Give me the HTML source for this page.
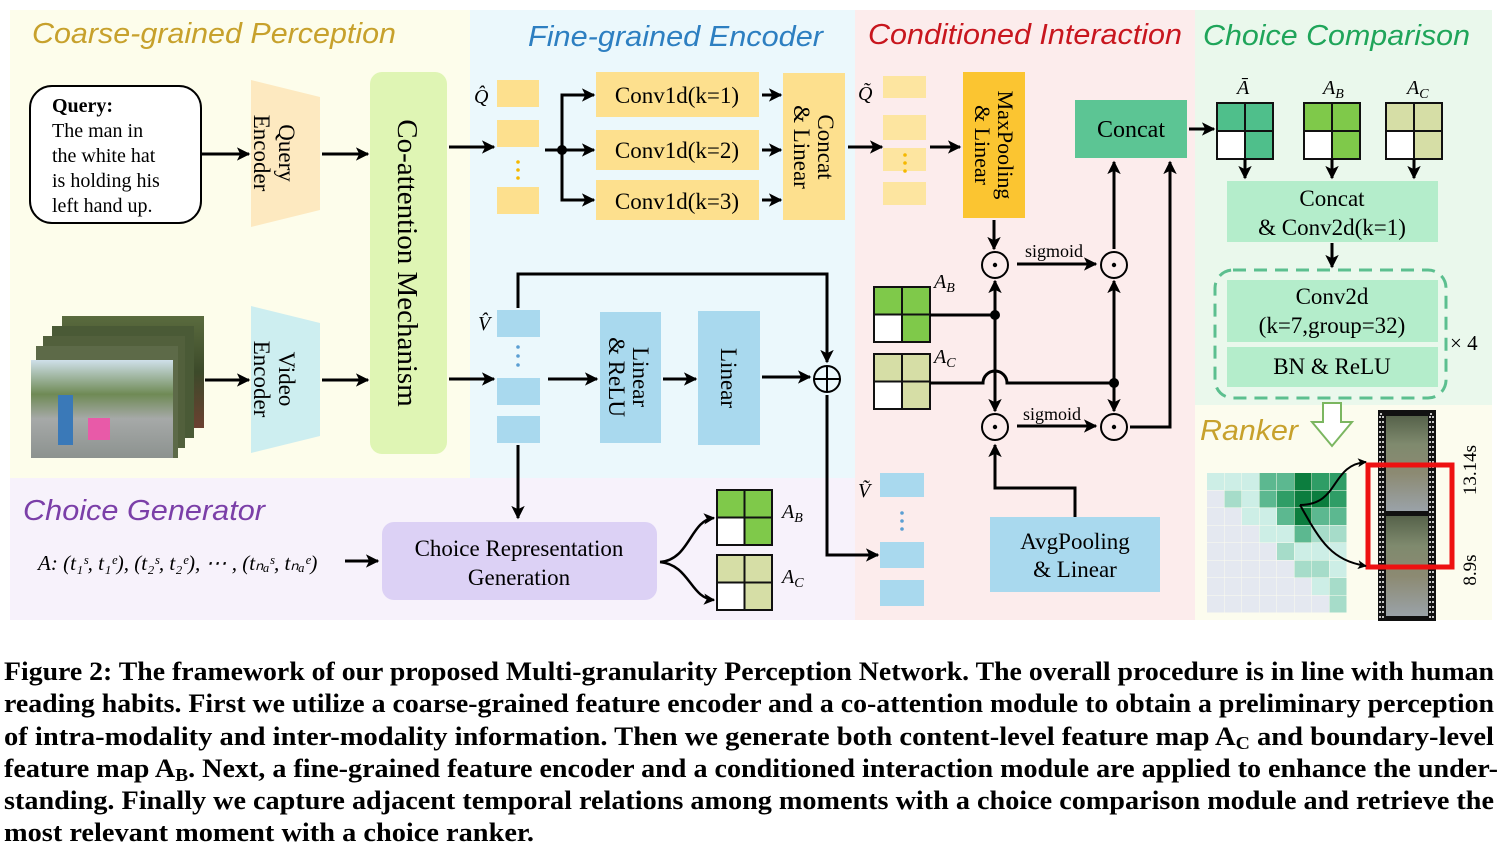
<!DOCTYPE html>
<html><head><meta charset="utf-8"><style>
html,body{margin:0;padding:0;background:#fff;width:1504px;height:853px;overflow:hidden}
svg{display:block}
.s{font-family:"Liberation Serif",serif}
.h{font-family:"Liberation Sans",sans-serif;font-style:italic}
</style></head><body>
<svg width="1504" height="853" viewBox="0 0 1504 853" xmlns="http://www.w3.org/2000/svg">
<defs>
<marker id="a" viewBox="0 0 10 10" refX="9" refY="5" markerWidth="4.5" markerHeight="4.5" orient="auto-start-reverse"><path d="M0,0 L10,5 L0,10 L2.5,5 z" fill="#000"/></marker>
<linearGradient id="v1" x1="0" y1="0" x2="0" y2="1"><stop offset="0" stop-color="#5a6b3e"/><stop offset="0.5" stop-color="#3c4a2a"/><stop offset="1" stop-color="#6b4030"/></linearGradient>
<linearGradient id="v2" x1="0" y1="0" x2="0" y2="1"><stop offset="0" stop-color="#cfe0ea"/><stop offset="0.35" stop-color="#6f8a55"/><stop offset="0.6" stop-color="#a6a9a8"/><stop offset="1" stop-color="#8c928f"/></linearGradient>
<linearGradient id="fs" x1="0" y1="0" x2="0" y2="1"><stop offset="0" stop-color="#56624a"/><stop offset="0.3" stop-color="#7f8a6e"/><stop offset="0.6" stop-color="#8c8a72"/><stop offset="1" stop-color="#9aa2a8"/></linearGradient>
</defs>
<rect x="10" y="10" width="460" height="468" fill="#fdfdeb"/>
<rect x="470" y="10" width="385" height="468" fill="#ebf8fc"/>
<rect x="855" y="10" width="340" height="610" fill="#fcecec"/>
<rect x="1195" y="10" width="297" height="395" fill="#eaf8ec"/>
<rect x="1195" y="405" width="297" height="215" fill="#fcfcee"/>
<rect x="10" y="478" width="845" height="142" fill="#f7f2fb"/>
<text x="32" y="43" class="h" font-size="29" fill="#c7a12c" textLength="364" lengthAdjust="spacingAndGlyphs">Coarse-grained Perception</text>
<text x="528" y="46" class="h" font-size="29" fill="#2d7fc1" textLength="295" lengthAdjust="spacingAndGlyphs">Fine-grained Encoder</text>
<text x="868" y="44" class="h" font-size="29" fill="#c8161e" textLength="314" lengthAdjust="spacingAndGlyphs">Conditioned Interaction</text>
<text x="1203" y="45" class="h" font-size="29" fill="#1fa55a" textLength="267" lengthAdjust="spacingAndGlyphs">Choice Comparison</text>
<text x="23" y="520" class="h" font-size="29" fill="#7b3fa8" textLength="242" lengthAdjust="spacingAndGlyphs">Choice Generator</text>
<text x="1200" y="440" class="h" font-size="29" fill="#c7a12c" textLength="98" lengthAdjust="spacingAndGlyphs">Ranker</text>

<rect x="30" y="86" width="171" height="137" rx="22" fill="#fff" stroke="#000" stroke-width="2"/>
<g class="s" font-size="20" fill="#000"><text x="52" y="112" font-weight="bold">Query:</text>
<text x="52" y="137">The man in</text><text x="52" y="162">the white hat</text><text x="52" y="187">is holding his</text><text x="52" y="212">left hand up.</text></g>
<polygon points="251,80 320,97 320,210 251,227" fill="#fde9c0"/>
<polygon points="251,306 320,323 320,436 251,453" fill="#cdeef0"/>
<g class="s" font-size="23" fill="#000">
<text transform="translate(287,153) rotate(90)" text-anchor="middle" y="8">Query</text>
<text transform="translate(262,153) rotate(90)" text-anchor="middle" y="8">Encoder</text>
<text transform="translate(287,379) rotate(90)" text-anchor="middle" y="8">Video</text>
<text transform="translate(262,379) rotate(90)" text-anchor="middle" y="8">Encoder</text></g>
<rect x="370" y="72" width="77" height="382" rx="12" fill="#dff5b4"/>
<text transform="translate(408,263) rotate(90)" text-anchor="middle" y="10" class="s" font-size="29">Co-attention Mechanism</text>

<rect x="62" y="316" width="142" height="112" fill="url(#v1)"/>
<rect x="52" y="326" width="142" height="112" fill="#4a5a36"/>
<rect x="43" y="336" width="142" height="112" fill="#52603c"/>
<rect x="36" y="346" width="142" height="112" fill="#5d6a48"/>
<rect x="31" y="360" width="142" height="98" fill="url(#v2)"/>
<rect x="58" y="395" width="15" height="50" fill="#3a79b8"/>
<rect x="88" y="418" width="22" height="22" fill="#e85aa8"/>

<g stroke="#000" stroke-width="3" fill="none" marker-end="url(#a)">
<line x1="201" y1="154" x2="249" y2="154"/>
<line x1="322" y1="154" x2="368" y2="154"/>
<line x1="205" y1="380" x2="249" y2="380"/>
<line x1="322" y1="380" x2="368" y2="380"/>
<line x1="449" y1="147" x2="494" y2="147"/>
<line x1="449" y1="379" x2="494" y2="379"/>
</g>
<text x="474" y="103" class="s" font-style="italic" font-size="20">Q̂</text>
<g fill="#fde08e"><rect x="497" y="80" width="42" height="27"/><rect x="497" y="120" width="42" height="27"/><rect x="497" y="187" width="42" height="27"/></g>
<g fill="#f5b800"><circle cx="518" cy="162" r="1.8"/><circle cx="518" cy="170" r="1.8"/><circle cx="518" cy="178" r="1.8"/></g>
<g fill="#fde08e"><rect x="596" y="72" width="163" height="45"/><rect x="596" y="130" width="163" height="40"/><rect x="596" y="180" width="163" height="40"/><rect x="783" y="73" width="62" height="147"/></g>
<g class="s" font-size="23"><text x="677" y="103" text-anchor="middle">Conv1d(k=1)</text><text x="677" y="158" text-anchor="middle">Conv1d(k=2)</text><text x="677" y="209" text-anchor="middle">Conv1d(k=3)</text>
<text transform="translate(814,147) rotate(90)" text-anchor="middle" class="s" font-size="23"><tspan x="0" y="-4">Concat</tspan><tspan x="0" y="20">&amp; Linear</tspan></text></g>
<g stroke="#000" stroke-width="3" fill="none" marker-end="url(#a)">
<path d="M545,150 L594,150"/><path d="M562,150 L562,95 L594,95"/><path d="M562,150 L562,200 L594,200"/>
<line x1="762" y1="95" x2="781" y2="95"/><line x1="762" y1="150" x2="781" y2="150"/><line x1="762" y1="200" x2="781" y2="200"/>
<line x1="848" y1="147" x2="882" y2="147"/>
</g>
<circle cx="562" cy="150" r="5" fill="#000"/>
<text x="478" y="330" class="s" font-style="italic" font-size="20">V̂</text>
<g fill="#a9d9ee"><rect x="497" y="310" width="43" height="27"/><rect x="497" y="378" width="43" height="27"/><rect x="497" y="416" width="43" height="27"/></g>
<g fill="#5b9fd3"><circle cx="518" cy="347" r="1.8"/><circle cx="518" cy="356" r="1.8"/><circle cx="518" cy="365" r="1.8"/></g>
<rect x="600" y="312" width="61" height="131" fill="#a9d9ee"/>
<rect x="698" y="311" width="62" height="134" fill="#a9d9ee"/>
<text transform="translate(630,377) rotate(90)" text-anchor="middle" class="s" font-size="23"><tspan x="0" y="-3">Linear</tspan><tspan x="0" y="21">&amp; ReLU</tspan></text>
<text transform="translate(729,378) rotate(90)" text-anchor="middle" y="8" class="s" font-size="23">Linear</text>
<g stroke="#000" stroke-width="3" fill="none">
<path d="M518,308 L518,274 L827,274 L827,362" marker-end="url(#a)"/>
<line x1="548" y1="379" x2="597" y2="379" marker-end="url(#a)"/>
<line x1="663" y1="379" x2="696" y2="379" marker-end="url(#a)"/>
<line x1="762" y1="377" x2="810" y2="377" marker-end="url(#a)"/>
<path d="M827,395 L827,555 L878,555" marker-end="url(#a)"/>
<line x1="518" y1="445" x2="518" y2="518" marker-end="url(#a)"/>
</g>
<circle cx="827" cy="379" r="13" fill="none" stroke="#000" stroke-width="2"/>
<line x1="814" y1="379" x2="840" y2="379" stroke="#000" stroke-width="2"/><line x1="827" y1="366" x2="827" y2="392" stroke="#000" stroke-width="2"/>

<text x="38" y="570" class="s" font-style="italic" font-size="21">A: (t₁ˢ, t₁ᵉ), (t₂ˢ, t₂ᵉ), ⋯ , (tₙₐˢ, tₙₐᵉ)</text>
<line x1="345" y1="561" x2="378" y2="561" stroke="#000" stroke-width="3" marker-end="url(#a)"/>
<rect x="382" y="522" width="275" height="78" rx="12" fill="#dcd1f5"/>
<text x="519" y="556" text-anchor="middle" class="s" font-size="23">Choice Representation</text>
<text x="519" y="585" text-anchor="middle" class="s" font-size="23">Generation</text>
<g stroke="#000" stroke-width="2.5" fill="none" marker-end="url(#a)">
<path d="M660,562 C690,560 690,520 714,518"/><path d="M660,562 C690,565 690,598 714,600"/></g>

<g stroke="#111" stroke-width="2">
<g transform="translate(717,490)"><rect width="55" height="55" fill="#7fc94a"/><rect y="27.5" width="27.5" height="27.5" fill="#fff"/><line x1="27.5" y1="0" x2="27.5" y2="55"/><line x1="0" y1="27.5" x2="55" y2="27.5"/></g>
<g transform="translate(717,555)"><rect width="55" height="55" fill="#d6dea6"/><rect y="27.5" width="27.5" height="27.5" fill="#fff"/><line x1="27.5" y1="0" x2="27.5" y2="55"/><line x1="0" y1="27.5" x2="55" y2="27.5"/></g>
<g transform="translate(874,287)"><rect width="56" height="55" fill="#7fc94a"/><rect y="27.5" width="28" height="27.5" fill="#fff"/><line x1="28" y1="0" x2="28" y2="55"/><line x1="0" y1="27.5" x2="56" y2="27.5"/></g>
<g transform="translate(874,354)"><rect width="56" height="55" fill="#d6dea6"/><rect y="27.5" width="28" height="27.5" fill="#fff"/><line x1="28" y1="0" x2="28" y2="55"/><line x1="0" y1="27.5" x2="56" y2="27.5"/></g>
<g transform="translate(1217,103)"><rect width="56" height="56" fill="#4fbf8b"/><rect y="28" width="28" height="28" fill="#fff"/><line x1="28" y1="0" x2="28" y2="56"/><line x1="0" y1="28" x2="56" y2="28"/></g>
<g transform="translate(1304,103)"><rect width="56" height="56" fill="#7fc94a"/><rect y="28" width="28" height="28" fill="#fff"/><line x1="28" y1="0" x2="28" y2="56"/><line x1="0" y1="28" x2="56" y2="28"/></g>
<g transform="translate(1386,103)"><rect width="56" height="56" fill="#d6dea6"/><rect y="28" width="28" height="28" fill="#fff"/><line x1="28" y1="0" x2="28" y2="56"/><line x1="0" y1="28" x2="56" y2="28"/></g>
</g>
<g class="s" font-style="italic" font-size="20">
<text x="782" y="518">A<tspan font-size="14" dy="4">B</tspan></text><text x="782" y="583">A<tspan font-size="14" dy="4">C</tspan></text>
<text x="934" y="288">A<tspan font-size="14" dy="4">B</tspan></text><text x="934" y="363">A<tspan font-size="14" dy="4">C</tspan></text>
<text x="1237" y="94">Ā</text><text x="1323" y="94">A<tspan font-size="14" dy="4">B</tspan></text><text x="1407" y="94">A<tspan font-size="14" dy="4">C</tspan></text>
<text x="858" y="100">Q̃</text><text x="858" y="497">Ṽ</text></g>

<g fill="#fde5a0"><rect x="883" y="76" width="43" height="22"/><rect x="883" y="115" width="43" height="25"/><rect x="883" y="148" width="43" height="23"/><rect x="883" y="182" width="43" height="23"/></g>
<g fill="#f5b800"><circle cx="905" cy="155" r="1.8"/><circle cx="905" cy="163" r="1.8"/><circle cx="905" cy="171" r="1.8"/></g>
<rect x="963" y="72" width="62" height="146" fill="#fbc531"/>
<text transform="translate(994,145) rotate(90)" text-anchor="middle" class="s" font-size="22"><tspan x="0" y="-4">MaxPooling</tspan><tspan x="0" y="19">&amp; Linear</tspan></text>
<rect x="1075" y="100" width="112" height="58" fill="#5cc594"/>
<text x="1131" y="137" text-anchor="middle" class="s" font-size="24">Concat</text>
<g fill="#a9d9ee"><rect x="880" y="473" width="44" height="24"/><rect x="880" y="542" width="44" height="26"/><rect x="880" y="580" width="44" height="26"/></g>
<g fill="#5b9fd3"><circle cx="902" cy="513" r="1.8"/><circle cx="902" cy="521" r="1.8"/><circle cx="902" cy="529" r="1.8"/></g>
<rect x="990" y="517" width="170" height="75" fill="#a9d9ee"/>
<text x="1075" y="549" text-anchor="middle" class="s" font-size="23">AvgPooling</text>
<text x="1075" y="577" text-anchor="middle" class="s" font-size="23">&amp; Linear</text>
<g fill="none" stroke="#000" stroke-width="2"><circle cx="995" cy="265" r="13"/><circle cx="1114" cy="265" r="13"/><circle cx="995" cy="427" r="13"/><circle cx="1114" cy="427" r="13"/></g>
<g fill="#000"><circle cx="995" cy="265" r="2.2"/><circle cx="1114" cy="265" r="2.2"/><circle cx="995" cy="427" r="2.2"/><circle cx="1114" cy="427" r="2.2"/>
<circle cx="995" cy="315" r="5"/><circle cx="1114" cy="383" r="5"/></g>
<text x="1054" y="257" text-anchor="middle" class="s" font-size="18">sigmoid</text>
<text x="1052" y="420" text-anchor="middle" class="s" font-size="18">sigmoid</text>
<g stroke="#000" stroke-width="3" fill="none">
<line x1="930" y1="147" x2="960" y2="147" marker-end="url(#a)"/>
<line x1="994" y1="220" x2="994" y2="249" marker-end="url(#a)"/>
<line x1="1017" y1="264" x2="1096" y2="264" marker-end="url(#a)"/>
<line x1="1017" y1="426" x2="1096" y2="426" marker-end="url(#a)"/>
<line x1="995" y1="281" x2="995" y2="411" marker-start="url(#a)" marker-end="url(#a)"/>
<line x1="1114" y1="281" x2="1114" y2="411" marker-start="url(#a)" marker-end="url(#a)"/>
<line x1="1114" y1="249" x2="1114" y2="162" marker-end="url(#a)"/>
<path d="M1130,427 L1170,427 L1170,162" marker-end="url(#a)"/>
<path d="M1075,517 L1075,488 L995,488 L995,445" marker-end="url(#a)"/>
<line x1="930" y1="315" x2="995" y2="315"/>
<path d="M930,383 L983,383 A12,12 0 0 1 1007,383 L1114,383"/>
<line x1="1189" y1="129" x2="1214" y2="129" marker-end="url(#a)"/>
<line x1="1245" y1="159" x2="1245" y2="178" marker-end="url(#a)"/>
<line x1="1332" y1="159" x2="1332" y2="178" marker-end="url(#a)"/>
<line x1="1414" y1="159" x2="1414" y2="178" marker-end="url(#a)"/>
<line x1="1332" y1="243" x2="1332" y2="267" marker-end="url(#a)"/>
</g>

<rect x="1227" y="181" width="211" height="61" fill="#b4edcb"/>
<text x="1332" y="206" text-anchor="middle" class="s" font-size="23">Concat</text>
<text x="1332" y="235" text-anchor="middle" class="s" font-size="23">&amp; Conv2d(k=1)</text>
<rect x="1215" y="270" width="231" height="128" rx="18" fill="none" stroke="#5cbf8f" stroke-width="3" stroke-dasharray="13,8"/>
<rect x="1227" y="280" width="211" height="62" fill="#b4edcb"/>
<rect x="1227" y="347" width="211" height="40" fill="#b4edcb"/>
<text x="1332" y="304" text-anchor="middle" class="s" font-size="23">Conv2d</text>
<text x="1332" y="333" text-anchor="middle" class="s" font-size="23">(k=7,group=32)</text>
<text x="1332" y="374" text-anchor="middle" class="s" font-size="23">BN &amp; ReLU</text>
<text x="1450" y="350" class="s" font-size="21">× 4</text>
<polygon points="1323,403 1341,403 1341,422 1352,422 1332,446 1312,422 1323,422" fill="#fff" stroke="#7bb660" stroke-width="2"/>

<rect x="1378" y="410" width="58" height="211" fill="#111"/>
<rect x="1386" y="416" width="42" height="95" fill="url(#fs)"/>
<rect x="1386" y="516" width="42" height="100" fill="url(#fs)"/>
<rect x="1380" y="414" width="3" height="204" fill="none" stroke="#fff" stroke-width="1.5" stroke-dasharray="2,3"/>
<rect x="1430" y="414" width="3" height="204" fill="none" stroke="#fff" stroke-width="1.5" stroke-dasharray="2,3"/>
<rect x="1368" y="465" width="84" height="102" fill="none" stroke="#ee1111" stroke-width="5"/>
<text transform="translate(1476,470) rotate(-90)" text-anchor="middle" class="s" font-size="19">13.14s</text>
<text transform="translate(1476,570) rotate(-90)" text-anchor="middle" class="s" font-size="19">8.9s</text>

<g class="s" font-weight="bold" font-size="26" fill="#000">
<text x="4" y="680" textLength="1490" lengthAdjust="spacingAndGlyphs">Figure 2: The framework of our proposed Multi-granularity Perception Network. The overall procedure is in line with human</text>
<text x="4" y="712" textLength="1490" lengthAdjust="spacingAndGlyphs">reading habits. First we utilize a coarse-grained feature encoder and a co-attention module to obtain a preliminary perception</text>
<text x="4" y="745" textLength="1490" lengthAdjust="spacingAndGlyphs">of intra-modality and inter-modality information. Then we generate both content-level feature map A<tspan font-size="18" dy="4">C</tspan><tspan dy="-4"> and boundary-level</tspan></text>
<text x="4" y="777" textLength="1494" lengthAdjust="spacingAndGlyphs">feature map A<tspan font-size="18" dy="4">B</tspan><tspan dy="-4">. Next, a fine-grained feature encoder and a conditioned interaction module are applied to enhance the under-</tspan></text>
<text x="4" y="809" textLength="1490" lengthAdjust="spacingAndGlyphs">standing. Finally we capture adjacent temporal relations among moments with a choice comparison module and retrieve the</text>
<text x="4" y="841" textLength="530" lengthAdjust="spacingAndGlyphs">most relevant moment with a choice ranker.</text>
</g>
<g transform="translate(1207,473)">
<rect x="0" y="0" width="17" height="17" fill="#cdeee6"/><rect x="17.5" y="0" width="17" height="17" fill="#cdeee6"/><rect x="35" y="0" width="17" height="17" fill="#cdeee6"/><rect x="52.5" y="0" width="17" height="17" fill="#5cb890"/><rect x="70" y="0" width="17" height="17" fill="#5cb890"/><rect x="87.5" y="0" width="17" height="17" fill="#0c7d3e"/><rect x="105" y="0" width="17" height="17" fill="#2f9d66"/><rect x="122.5" y="0" width="17" height="17" fill="#2f9d66"/>
<rect x="0" y="17.5" width="17" height="17" fill="#e4e8f0"/><rect x="17.5" y="17.5" width="17" height="17" fill="#a6dcc9"/><rect x="35" y="17.5" width="17" height="17" fill="#cdeee6"/><rect x="52.5" y="17.5" width="17" height="17" fill="#5cb890"/><rect x="70" y="17.5" width="17" height="17" fill="#2f9d66"/><rect x="87.5" y="17.5" width="17" height="17" fill="#0c7d3e"/><rect x="105" y="17.5" width="17" height="17" fill="#0c7d3e"/><rect x="122.5" y="17.5" width="17" height="17" fill="#2f9d66"/>
<rect x="0" y="35" width="17" height="17" fill="#e4e8f0"/><rect x="17.5" y="35" width="17" height="17" fill="#e4e8f0"/><rect x="35" y="35" width="17" height="17" fill="#cdeee6"/><rect x="52.5" y="35" width="17" height="17" fill="#cdeee6"/><rect x="70" y="35" width="17" height="17" fill="#5cb890"/><rect x="87.5" y="35" width="17" height="17" fill="#0c7d3e"/><rect x="105" y="35" width="17" height="17" fill="#5cb890"/><rect x="122.5" y="35" width="17" height="17" fill="#5cb890"/>
<rect x="0" y="52.5" width="17" height="17" fill="#e4e8f0"/><rect x="17.5" y="52.5" width="17" height="17" fill="#e4e8f0"/><rect x="35" y="52.5" width="17" height="17" fill="#e4e8f0"/><rect x="52.5" y="52.5" width="17" height="17" fill="#cdeee6"/><rect x="70" y="52.5" width="17" height="17" fill="#cdeee6"/><rect x="87.5" y="52.5" width="17" height="17" fill="#5cb890"/><rect x="105" y="52.5" width="17" height="17" fill="#a6dcc9"/><rect x="122.5" y="52.5" width="17" height="17" fill="#a6dcc9"/>
<rect x="0" y="70" width="17" height="17" fill="#e4e8f0"/><rect x="17.5" y="70" width="17" height="17" fill="#e4e8f0"/><rect x="35" y="70" width="17" height="17" fill="#e4e8f0"/><rect x="52.5" y="70" width="17" height="17" fill="#e4e8f0"/><rect x="70" y="70" width="17" height="17" fill="#a6dcc9"/><rect x="87.5" y="70" width="17" height="17" fill="#cdeee6"/><rect x="105" y="70" width="17" height="17" fill="#cdeee6"/><rect x="122.5" y="70" width="17" height="17" fill="#cdeee6"/>
<rect x="0" y="87.5" width="17" height="17" fill="#e4e8f0"/><rect x="17.5" y="87.5" width="17" height="17" fill="#e4e8f0"/><rect x="35" y="87.5" width="17" height="17" fill="#e4e8f0"/><rect x="52.5" y="87.5" width="17" height="17" fill="#e4e8f0"/><rect x="70" y="87.5" width="17" height="17" fill="#e4e8f0"/><rect x="87.5" y="87.5" width="17" height="17" fill="#a6dcc9"/><rect x="105" y="87.5" width="17" height="17" fill="#a6dcc9"/><rect x="122.5" y="87.5" width="17" height="17" fill="#cdeee6"/>
<rect x="0" y="105" width="17" height="17" fill="#e4e8f0"/><rect x="17.5" y="105" width="17" height="17" fill="#e4e8f0"/><rect x="35" y="105" width="17" height="17" fill="#e4e8f0"/><rect x="52.5" y="105" width="17" height="17" fill="#e4e8f0"/><rect x="70" y="105" width="17" height="17" fill="#e4e8f0"/><rect x="87.5" y="105" width="17" height="17" fill="#e4e8f0"/><rect x="105" y="105" width="17" height="17" fill="#cdeee6"/><rect x="122.5" y="105" width="17" height="17" fill="#a6dcc9"/>
<rect x="0" y="122.5" width="17" height="17" fill="#e4e8f0"/><rect x="17.5" y="122.5" width="17" height="17" fill="#e4e8f0"/><rect x="35" y="122.5" width="17" height="17" fill="#e4e8f0"/><rect x="52.5" y="122.5" width="17" height="17" fill="#e4e8f0"/><rect x="70" y="122.5" width="17" height="17" fill="#e4e8f0"/><rect x="87.5" y="122.5" width="17" height="17" fill="#e4e8f0"/><rect x="105" y="122.5" width="17" height="17" fill="#e4e8f0"/><rect x="122.5" y="122.5" width="17" height="17" fill="#a6dcc9"/>
</g>
<g stroke="#000" stroke-width="2" fill="none" marker-end="url(#a)">
<path d="M1300,505 C1340,505 1330,465 1366,462"/>
<path d="M1300,505 C1320,540 1330,560 1366,566"/>
</g>
</svg>
</body></html>
